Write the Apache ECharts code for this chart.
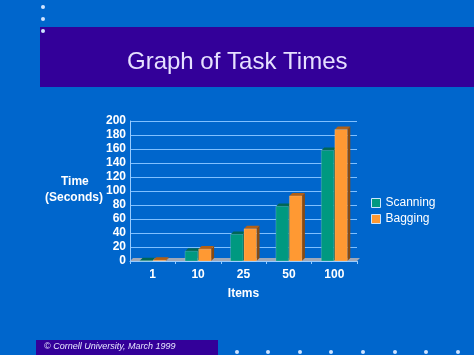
<!DOCTYPE html>
<html><head><meta charset="utf-8">
<script src="https://cdn.jsdelivr.net/npm/echarts@6/dist/echarts.min.js"></script>
<style>html,body{margin:0;padding:0;background:#0066CC;}#c{width:474px;height:355px;}</style>
</head><body><div id="c"></div>
<script>
const categories = ['1', '10', '25', '50', '100'];
const scanning = [0.5, 14, 38, 78, 158];
const bagging = [1, 17, 46, 93, 188];
const seriesNames = ['Scanning', 'Bagging'];
const yTicks = {min: 0, max: 200, interval: 20};

const chart = echarts.init(document.getElementById('c'));
const faceColors = [
  {front: '#009980', top: '#006655', side: '#005544'},
  {front: '#FF9933', top: '#B25F14', side: '#8A4A10'}
];
const DX = 3, DY = 3, BW = 12.5, GAP = 1;
function renderBar(sIdx) {
  return function (params, api) {
    const i = api.value(0), v = api.value(1);
    const top = api.coord([i, v]);
    const base = api.coord([i, 0]);
    const cx = top[0];
    const x = sIdx === 0 ? cx - BW - GAP / 2 : cx + GAP / 2;
    const yT = top[1], y0 = base[1];
    const c = faceColors[sIdx];
    return {
      type: 'group',
      children: [
        {type: 'polygon', shape: {points: [[x + BW, yT], [x + BW + DX, yT - DY], [x + BW + DX, y0 - DY], [x + BW, y0]]}, style: {fill: c.side}},
        {type: 'polygon', shape: {points: [[x, yT], [x + DX, yT - DY], [x + BW + DX, yT - DY], [x + BW, yT]]}, style: {fill: c.top}},
        {type: 'rect', shape: {x: x, y: yT, width: BW, height: Math.max(y0 - yT, 0.5)}, style: {fill: c.front, stroke: 'rgba(255,255,255,0.35)', lineWidth: 0.5}}
      ]
    };
  };
}

const dotsTop = [7, 19, 31].map(y => ({type: 'circle', shape: {cx: 43, cy: y, r: 2}, style: {fill: '#D0E4FF'}}));
const dotsBottom = [237, 268, 300, 331, 363, 395, 426, 458].map(x => ({type: 'circle', shape: {cx: x, cy: 352, r: 2}, style: {fill: '#D0E4FF'}}));

chart.setOption({
  backgroundColor: '#0066CC',
  animation: false,
  graphic: [
    {type: 'rect', shape: {x: 40, y: 27, width: 434, height: 60}, style: {fill: '#330099'}},
    ...dotsTop,
    ...dotsBottom,
    {type: 'text', left: 127, top: 50, style: {text: 'Graph of Task Times', fill: '#E6E0FF', font: '24px "Liberation Sans", Arial, sans-serif'}},
    {type: 'rect', shape: {x: 36, y: 340, width: 182, height: 15}, style: {fill: '#330099'}},
    {type: 'text', left: 44, top: 342, style: {text: '\u00A9 Cornell University, March 1999', fill: '#E6E6FF', font: 'italic 9px "Liberation Sans", Arial, sans-serif'}},
    {type: 'text', left: 61, top: 176, style: {text: 'Time', fill: '#FFFFFF', font: 'bold 12px "Liberation Sans", Arial, sans-serif'}},
    {type: 'text', left: 45, top: 192, style: {text: '(Seconds)', fill: '#FFFFFF', font: 'bold 12px "Liberation Sans", Arial, sans-serif'}},
    {type: 'polygon', shape: {points: [[130, 261], [133, 258], [360, 258], [357, 261]]}, style: {fill: '#A0A8B8'}}
  ],
  legend: {
    orient: 'vertical', left: 366, top: 192, itemWidth: 9, itemHeight: 9, itemGap: 4,
    icon: 'rect',
    textStyle: {color: '#FFFFFF', fontSize: 12, fontFamily: '"Liberation Sans", Arial, sans-serif'},
    data: [
      {name: seriesNames[0], itemStyle: {color: faceColors[0].front, borderColor: '#CCE6FF', borderWidth: 1}},
      {name: seriesNames[1], itemStyle: {color: faceColors[1].front, borderColor: '#CCE6FF', borderWidth: 1}}
    ]
  },
  grid: {left: 130, right: 117, top: 121, bottom: 94, show: false},
  xAxis: {
    type: 'category', data: categories,
    name: 'Items', nameLocation: 'middle', nameGap: 27,
    nameTextStyle: {color: '#FFFFFF', fontWeight: 'bold', fontSize: 12, fontFamily: '"Liberation Sans", Arial, sans-serif'},
    axisLine: {show: true, lineStyle: {color: '#99CCFF'}},
    axisTick: {show: true, length: 3, lineStyle: {color: '#99CCFF'}},
    axisLabel: {color: '#FFFFFF', fontWeight: 'bold', fontSize: 12, margin: 8, fontFamily: '"Liberation Sans", Arial, sans-serif'}
  },
  yAxis: {
    type: 'value', min: yTicks.min, max: yTicks.max, interval: yTicks.interval,
    axisLine: {show: true, lineStyle: {color: '#99CCFF'}},
    axisTick: {show: false},
    axisLabel: {color: '#FFFFFF', fontWeight: 'bold', fontSize: 12, margin: 4, fontFamily: '"Liberation Sans", Arial, sans-serif'},
    splitLine: {show: true, lineStyle: {color: '#80C0FF', width: 1}}
  },
  series: [
    {name: seriesNames[0], type: 'custom', renderItem: renderBar(0), itemStyle: {color: faceColors[0].front},
     data: scanning.map((v, i) => [i, v]), z: 3},
    {name: seriesNames[1], type: 'custom', renderItem: renderBar(1), itemStyle: {color: faceColors[1].front},
     data: bagging.map((v, i) => [i, v]), z: 3}
  ]
});
</script></body></html>
